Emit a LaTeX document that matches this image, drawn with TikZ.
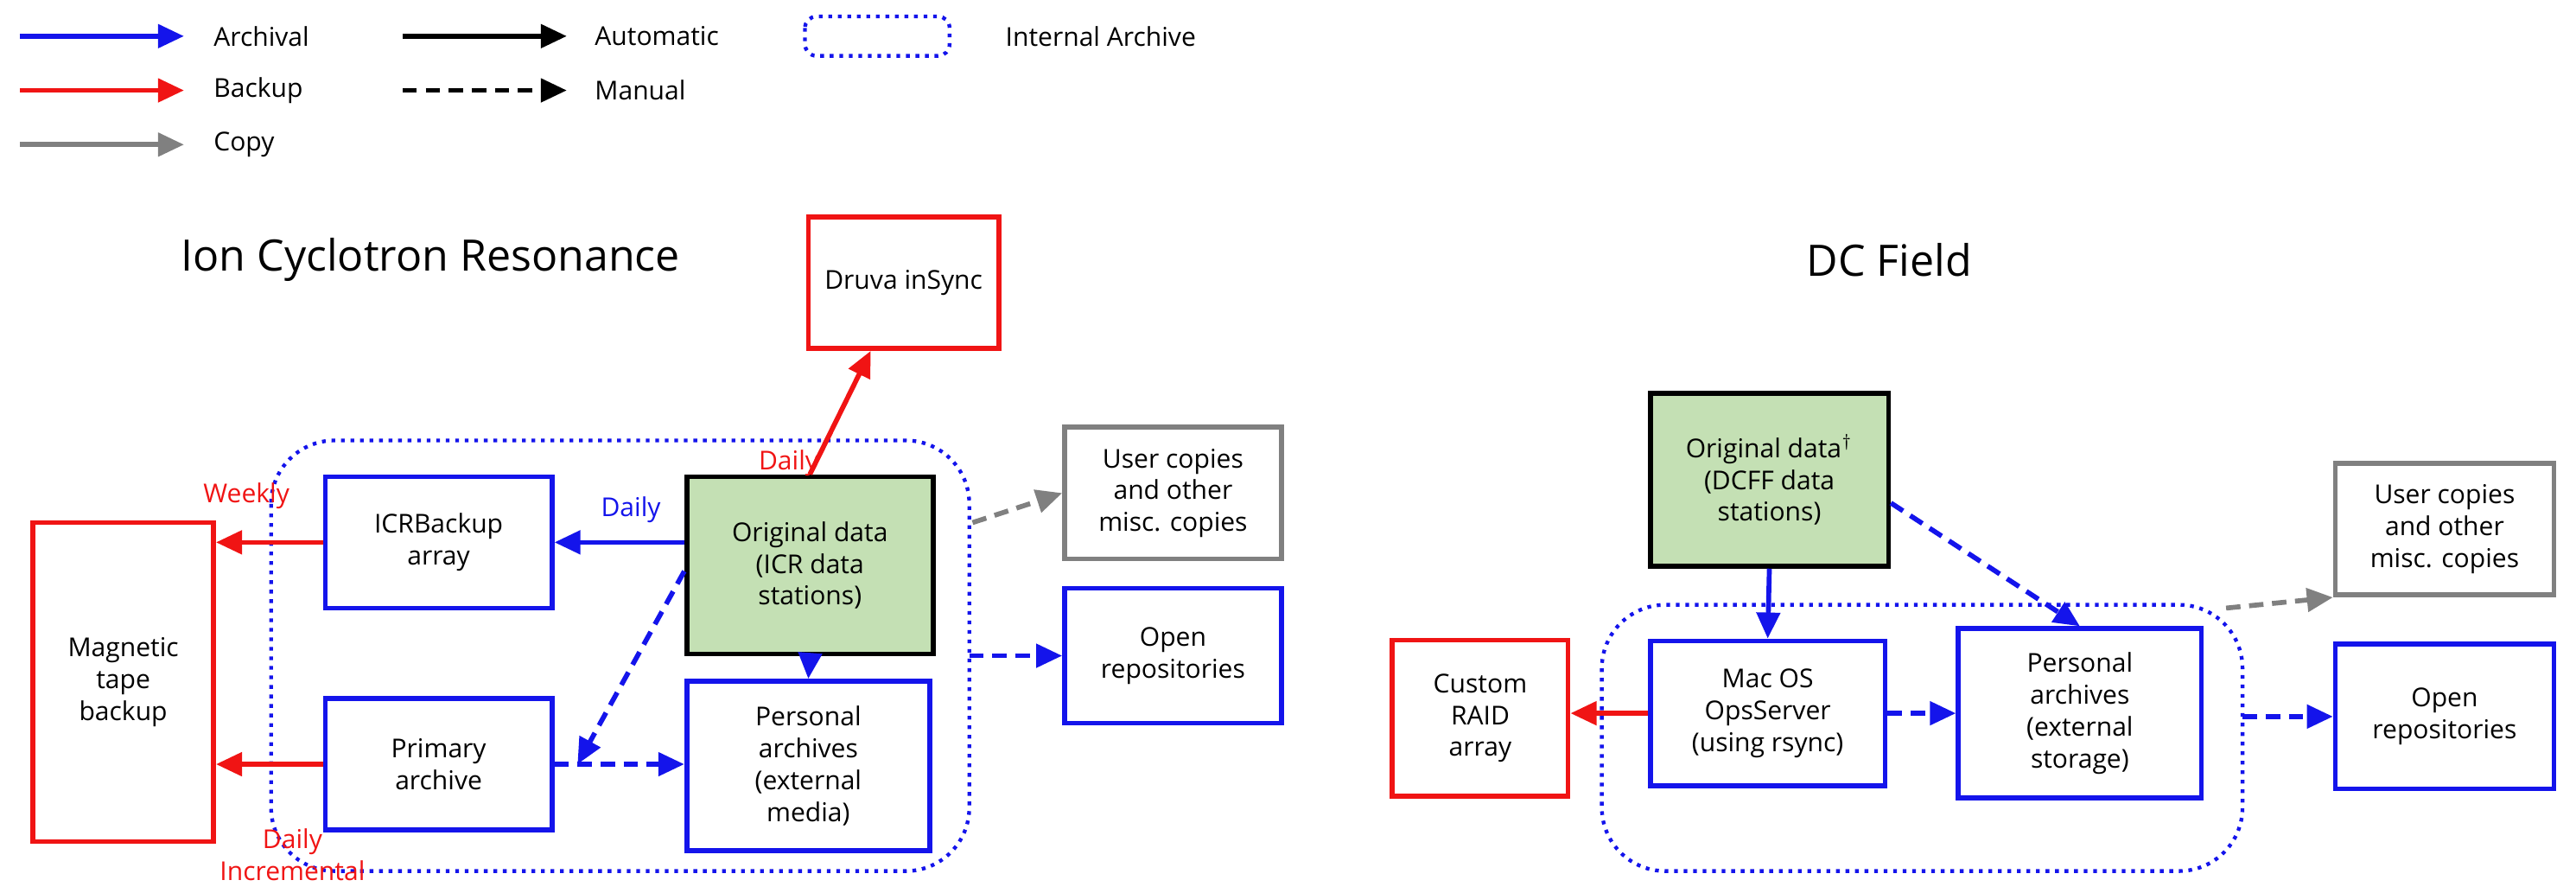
\documentclass[tikz,border=0pt]{standalone}
\usepackage{fontspec}
\setmainfont{Open Sans}
\usetikzlibrary{arrows.meta}
\definecolor{myblue}{RGB}{20,20,235}
\definecolor{myred}{RGB}{240,20,20}
\definecolor{mygray}{RGB}{128,128,128}
\definecolor{mygreen}{RGB}{196,224,180}
\tikzset{
  box/.style={draw=myblue,line width=1.7pt,align=center,font=\fontsize{9}{11}\selectfont,inner sep=0pt},
  redbox/.style={box,draw=myred},
  graybox/.style={box,draw=mygray},
  origbox/.style={box,draw=black,fill=mygreen},
  arr/.style={line width=1.7pt,-{Triangle[length=9pt,width=8pt]}},
  man/.style={arr,dash pattern=on 5pt off 3pt},
  lab/.style={font=\fontsize{9}{11}\selectfont,inner sep=1pt},
  archive/.style={draw=myblue,line width=1.3pt,dotted,rounded corners=22pt},
}
\begin{document}
\begin{tikzpicture}[x=0.02cm,y=-0.02cm]
\useasboundingbox (0,0) rectangle (1568,543);
% legend
\coordinate (l1a) at (12,22); \coordinate (l1b) at (112,22);
\coordinate (l2a) at (12,55); \coordinate (l2b) at (112,55);
\coordinate (l3a) at (12,88); \coordinate (l3b) at (112,88);
\coordinate (l4a) at (245,22); \coordinate (l4b) at (345,22);
\coordinate (l5a) at (245,55); \coordinate (l5b) at (345,55);
\draw[arr,myblue] (l1a) -- (l1b);
\draw[arr,myred] (l2a) -- (l2b);
\draw[arr,mygray] (l3a) -- (l3b);
\draw[arr] (l4a) -- (l4b);
\draw[man] (l5a) -- (l5b);
\node[lab,anchor=west] (ta) at (128,22) {Archival};
\node[lab,anchor=west] (tb) at (128,55) {Backup};
\node[lab,anchor=west] (tc) at (128,88) {Copy};
\node[lab,anchor=west] (td) at (360,22) {Automatic};
\node[lab,anchor=west] (te) at (360,55) {Manual};
\draw[archive,rounded corners=4pt] (490,10) rectangle (578,34);
\node[lab,anchor=west] (tf) at (610,22) {Internal Archive};
% titles
\node[font=\fontsize{15}{18}\selectfont] (t1) at (262,158) {Ion Cyclotron Resonance};
\node[font=\fontsize{15}{18}\selectfont] (t2) at (1150,158) {DC Field};
% ---- ICR ----
\draw[archive] (165,268) rectangle (590,530);
\node[redbox,minimum width=2.32cm,minimum height=1.6cm] (druva) at (550,172) {Druva inSync};
\node[origbox,minimum width=3cm,minimum height=2.16cm] (orig) at (493,344) {Original data\\(ICR data\\stations)};
\node[box,minimum width=2.76cm,minimum height=1.6cm] (icrb) at (267,330) {ICRBackup\\array};
\node[box,minimum width=2.76cm,minimum height=1.6cm] (prim) at (267,465) {Primary\\archive};
\node[box,minimum width=2.96cm,minimum height=2.06cm] (pers) at (492,466) {Personal\\archives\\(external\\media)};
\node[redbox,minimum width=2.2cm,minimum height=3.88cm] (tape) at (75,415) {Magnetic\\tape\\backup};
\node[graybox,minimum width=2.64cm,minimum height=1.6cm] (user) at (714,300) {User copies\\and other\\misc. copies};
\node[box,minimum width=2.64cm,minimum height=1.64cm] (open) at (714,399) {Open\\repositories};
\coordinate (ua) at (592,318); \coordinate (oa) at (590,399);
\draw[arr,myred] (orig.north) -- ([xshift=-0.4cm]druva.south);
\node[lab,text=myred] (ld) at (480,282) {Daily};
\draw[arr,myblue] (orig.west |- icrb) -- (icrb.east);
\node[lab,text=myblue] (ldb) at (384,310) {Daily};
\draw[arr,myred] (icrb.west) -- (tape.east |- icrb);
\node[lab,text=myred] (lw) at (150,302) {Weekly};
\draw[arr,myred] (prim.west) -- (tape.east |- prim);
\node[lab,text=myred,align=center] (li) at (178,520) {Daily\\Incremental};
\draw[man,myblue] ([yshift=-10pt]orig.west |- icrb) -- ([xshift=8pt]prim.east);
\draw[man,myblue] (orig.south) -- (pers.north);
\draw[man,myblue] (prim.east) -- (pers.west |- prim);
\draw[man,mygray] (ua) -- (user.west);
\draw[man,myblue] (oa) -- (open.west);
% ---- DC Field ----
\draw[archive] (975,368) rectangle (1365,530);
\node[origbox,minimum width=2.9cm,minimum height=2.1cm] (orig2) at (1077,292) {Original data$^{\dagger}$\\(DCFF data\\stations)};
\node[box,minimum width=2.86cm,minimum height=1.76cm] (mac) at (1076,434) {Mac OS\\OpsServer\\(using rsync)};
\node[box,minimum width=2.96cm,minimum height=2.06cm] (pers2) at (1266,434) {Personal\\archives\\(external\\storage)};
\node[redbox,minimum width=2.14cm,minimum height=1.9cm] (raid) at (901,437) {Custom\\RAID\\array};
\node[graybox,minimum width=2.66cm,minimum height=1.6cm] (user2) at (1488,322) {User copies\\and other\\misc. copies};
\node[box,minimum width=2.66cm,minimum height=1.76cm] (open2) at (1488,436) {Open\\repositories};
\coordinate (ub) at (1355,370); \coordinate (ob) at (1365,436);
\draw[arr,myblue] (orig2.south) -- (mac.north);
\draw[man,myblue] ([yshift=-8pt]orig2.east) -- (pers2.north);
\draw[arr,myred] (mac.west) -- (raid.east |- mac);
\draw[man,myblue] (mac.east) -- (pers2.west);
\draw[man,mygray] (ub) -- (user2.south west);
\draw[man,myblue] (ob) -- (open2.west);
\end{tikzpicture}
\end{document}
